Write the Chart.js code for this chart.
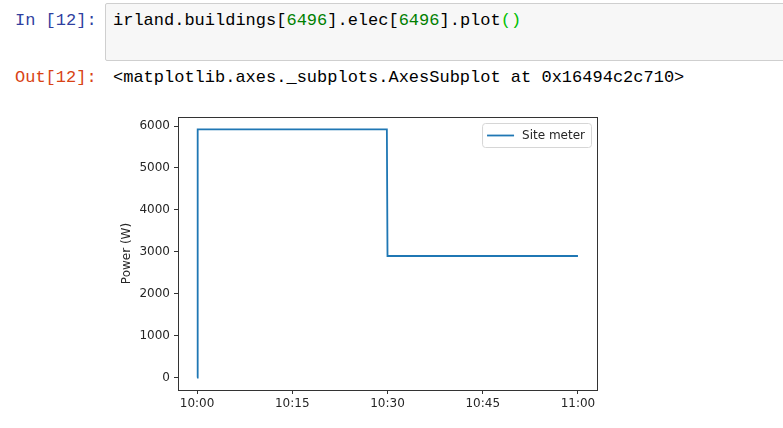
<!DOCTYPE html>
<html>
<head>
<meta charset="utf-8">
<script src="https://cdn.jsdelivr.net/npm/chart.js@4"></script>
<style>
  body { margin: 0; background: #fff; width: 783px; height: 428px; overflow: hidden; position: relative; }
  .mono { position: absolute; font-family: "Liberation Mono", monospace; font-size: 17px; line-height: 20px; white-space: pre; }
  #codebox { position: absolute; left: 105px; top: 3px; width: 690px; height: 58px; background: #f7f7f7; border: 1px solid #cfcfcf; border-radius: 2px; box-sizing: border-box; }
  .num { color: #008000; }
  .br { color: #00c000; }
  #wrap { position: absolute; left: 116px; top: 105px; width: 500px; height: 320px; }
</style>
</head>
<body>
<div id="codebox"></div>
<div class="mono" style="left:15px;top:11px;color:#303F9F">In [12]:</div>
<div class="mono" style="left:113px;top:11px;color:#000">irland.buildings[<span class="num">6496</span>].elec[<span class="num">6496</span>].plot<span class="br">()</span></div>
<div class="mono" style="left:15px;top:68px;color:#D84315">Out[12]:</div>
<div class="mono" style="left:113px;top:68px;color:#000">&lt;matplotlib.axes._subplots.AxesSubplot at 0x16494c2c710&gt;</div>
<div id="wrap"><canvas id="chart"></canvas></div>
<script>
// data, minutes after 10:00
var timeMinutes = [0, 0.1, 29.9, 30, 60];
var powerW = [0, 5920, 5920, 2900, 2900];
var seriesName = 'Site meter';

// ticks
var xTickValues = [0, 15, 30, 45, 60];
var xTickLabels = ['10:00', '10:15', '10:30', '10:45', '11:00'];
var yTickValues = [0, 1000, 2000, 3000, 4000, 5000, 6000];

var lineColor = '#1f77b4';
var axisColor = '#333';
var textColor = '#262626';

var points = timeMinutes.map(function(t, i) { return {x: t, y: powerW[i]}; });

// matplotlib style frame + legend in the top right corner
var framePlugin = {
  id: 'frame',
  afterDraw: function(chart) {
    var c = chart.ctx, a = chart.chartArea;
    c.save();
    c.strokeStyle = axisColor;
    c.lineWidth = 1;
    c.strokeRect(Math.round(a.left) + 0.5, Math.round(a.top) + 0.5, Math.round(a.right - a.left), Math.round(a.bottom - a.top));

    var label = chart.data.datasets[0].label;
    c.font = '12px "DejaVu Sans"';
    var tw = c.measureText(label).width;
    var bw = tw + 46, bh = 24;
    var bx = a.right - 6 - bw, by = a.top + 6;
    c.fillStyle = 'rgba(255,255,255,0.8)';
    c.strokeStyle = '#d6d6d6';
    c.beginPath();
    c.roundRect(bx + 0.5, by + 0.5, bw, bh, 3);
    c.fill();
    c.stroke();
    c.strokeStyle = lineColor;
    c.lineWidth = 1.8;
    c.beginPath();
    c.moveTo(bx + 5, by + bh / 2 + 0.5);
    c.lineTo(bx + 32, by + bh / 2 + 0.5);
    c.stroke();
    c.fillStyle = textColor;
    c.textBaseline = 'middle';
    c.fillText(label, bx + 40, by + bh / 2 + 1);
    c.restore();
  }
};

var ctx = document.getElementById('chart').getContext('2d');
var chart = new Chart(ctx, {
  type: 'line',
  data: {
    datasets: [{
      label: seriesName,
      data: points,
      borderColor: lineColor,
      borderWidth: 1.8,
      pointRadius: 0,
      tension: 0,
      fill: false
    }]
  },
  options: {
    responsive: true,
    maintainAspectRatio: false,
    animation: false,
    layout: { padding: { left: 0, top: 12, right: 19, bottom: 0 } },
    plugins: { legend: { display: false }, tooltip: { enabled: false } },
    scales: {
      x: {
        type: 'linear',
        min: -3, max: 63,
        grid: { display: true, drawOnChartArea: false, drawTicks: true, tickLength: 4, color: axisColor },
        border: { display: true, color: axisColor },
        ticks: {
          color: textColor, padding: 3, maxRotation: 0,
          font: { family: 'DejaVu Sans', size: 12 },
          callback: function(v) { var i = xTickValues.indexOf(v); return i < 0 ? '' : xTickLabels[i]; }
        },
        afterBuildTicks: function(s) { s.ticks = xTickValues.map(function(v) { return {value: v}; }); },
        afterFit: function(s) { s.height = 35; }
      },
      y: {
        min: -296, max: 6216,
        grid: { display: true, drawOnChartArea: false, drawTicks: true, tickLength: 4, color: axisColor },
        border: { display: true, color: axisColor },
        title: { display: true, text: 'Power (W)', color: textColor, font: { family: 'DejaVu Sans', size: 12 } },
        ticks: {
          color: textColor, padding: 4, font: { family: 'DejaVu Sans', size: 12 },
          callback: function(v) { return String(v); }
        },
        afterBuildTicks: function(s) { s.ticks = yTickValues.map(function(v) { return {value: v}; }); },
        afterFit: function(s) { s.width = 62; }
      }
    }
  },
  plugins: [framePlugin]
});
</script>
</body>
</html>
